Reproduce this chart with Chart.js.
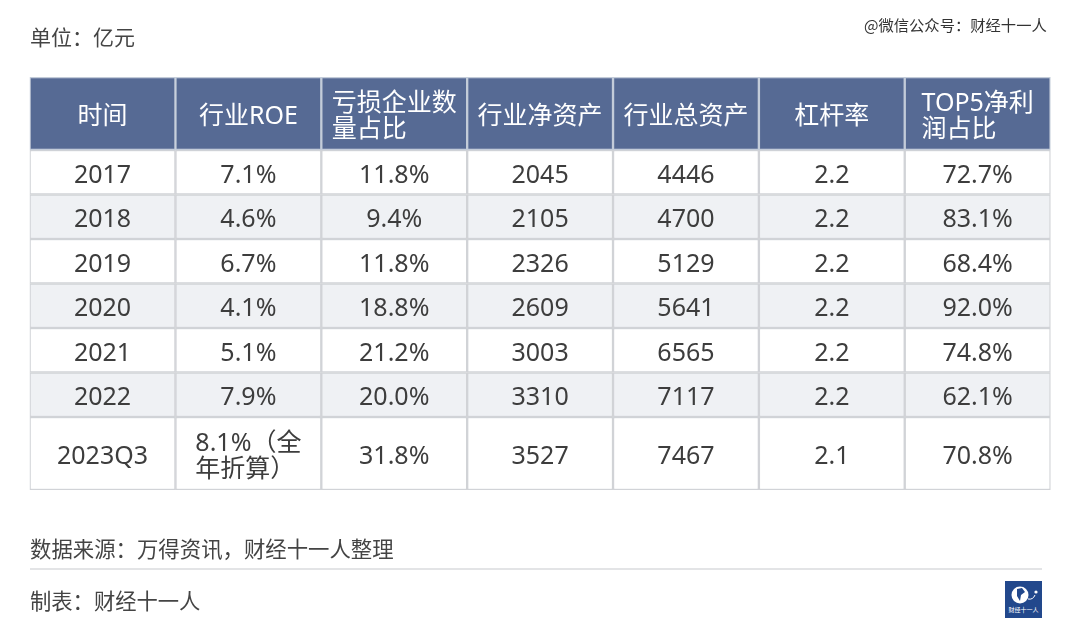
<!DOCTYPE html>
<html lang="zh-CN"><head><meta charset="utf-8">
<script src="https://cdn.jsdelivr.net/npm/chart.js@4"></script>
<style>
html,body{margin:0;padding:0;background:#fff;width:1071px;height:638px;overflow:hidden}
body{position:relative;font-family:"Noto Sans CJK SC","Noto Sans",sans-serif;color:#444}
canvas{position:absolute;left:0;top:0}
.t{position:absolute;white-space:nowrap;line-height:1}
.rule{position:absolute;left:30px;top:568px;width:1012px;height:2px;background:#e3e4e6}
.logo{position:absolute;left:1005px;top:581px;width:37px;height:37px;background:#22488c}
.logo svg{position:absolute;left:0;top:0}
.logo span{position:absolute;left:0;right:0;top:26px;text-align:center;font-size:6px;line-height:1;color:#fff;white-space:nowrap}
</style></head><body>
<canvas id="c" width="1071" height="638"></canvas>
<div class="t" style="left:30px;top:26px;font-size:21px">单位：亿元</div>
<div class="t" style="left:864px;top:17px;font-size:15.3px;color:#333">@微信公众号：财经十一人</div>
<div class="t" style="left:30px;top:537px;font-size:21.4px">数据来源：万得资讯，财经十一人整理</div>
<div class="rule"></div>
<div class="t" style="left:30px;top:589px;font-size:21.3px">制表：财经十一人</div>
<div class="logo"><svg width="37" height="37" viewBox="0 0 37 37"><circle cx="15" cy="14" r="8.5" fill="#fff"/><path d="M12 8l5-1 3 4-4 3-1 6-3-5z" fill="#22488c"/><path d="M23 18q5 1 7-4" stroke="#fff" fill="none" stroke-width="1"/><circle cx="31" cy="11" r="1.6" fill="#fff"/></svg><span>财经十一人</span></div>
<script>
// Table content
const headers   = [["时间"],["行业ROE"],["亏损企业数","量占比"],["行业净资产"],["行业总资产"],["杠杆率"],["TOP5净利","润占比"]];
const periods   = ["2017","2018","2019","2020","2021","2022","2023Q3"];
const roe       = ["7.1%","4.6%","6.7%","4.1%","5.1%","7.9%",["8.1%（全","年折算）"]];
const lossShare = ["11.8%","9.4%","11.8%","18.8%","21.2%","20.0%","31.8%"];
const netAssets = ["2045","2105","2326","2609","3003","3310","3527"];
const totalAssets = ["4446","4700","5129","5641","6565","7117","7467"];
const leverage  = ["2.2","2.2","2.2","2.2","2.2","2.2","2.1"];
const top5Share = ["72.7%","83.1%","68.4%","92.0%","74.8%","62.1%","70.8%"];

const columns = [periods,roe,lossShare,netAssets,totalAssets,leverage,top5Share];
const rowSpans = [73,44.5,44.5,44.5,44.5,44.5,44.5,73];
const edges = rowSpans.reduce((a,h)=>{a.push(a[a.length-1]+h);return a;},[0]);
const rows = [headers].concat(periods.map((_,r)=>columns.map(c=>c[r])));
const HEAD='#566a94', HEADLINE='#c3ccd9', LINE='#d1d3d7', ALT='#eff1f4', INK='#3d3d3d';

const datasets = rows.map((row,r)=>({
  label: r===0?'表头':periods[r-1],
  data: row.map(()=>[edges[r],edges[r+1]]),
  cellText: row,
  backgroundColor: r===0?HEAD:(r%2===0?ALT:'#ffffff'),
  borderColor: r===0?HEADLINE:LINE,
  borderWidth: 1.5,
  borderSkipped:false,
  barPercentage:1, categoryPercentage:1, grouped:false
}));

const cellTextPlugin = {
  id:'cellText',
  afterDatasetsDraw(chart){
    const ctx=chart.ctx;
    ctx.save();
    ctx.font='25px "Noto Sans","Noto Sans CJK SC",sans-serif';
    ctx.textBaseline='middle';
    chart.data.datasets.forEach((ds,r)=>{
      chart.getDatasetMeta(r).data.forEach((bar,c)=>{
        const v=ds.cellText[c];
        const lines=Array.isArray(v)?v:[v];
        const cy=(bar.y+bar.base)/2;
        const w=Math.max(...lines.map(l=>ctx.measureText(l).width));
        const lh=25.5;
        ctx.fillStyle=r===0?'#ffffff':INK;
        lines.forEach((l,i)=>{
          ctx.textAlign='left';
          ctx.fillText(l,bar.x-w/2,cy+(i-(lines.length-1)/2)*lh+3.5);
        });
      });
    });
    ctx.restore();
  }
};

new Chart(document.getElementById('c'),{
  type:'bar',
  data:{labels:headers.map(h=>h.join('')),datasets},
  plugins:[cellTextPlugin],
  options:{
    responsive:false,animation:false,devicePixelRatio:1,
    events:[],
    layout:{padding:{left:29.6,right:20.4,top:77,bottom:148}},
    plugins:{legend:{display:false},tooltip:{enabled:false},title:{display:false}},
    scales:{
      x:{display:false,offset:true,grid:{display:false}},
      y:{display:false,reverse:true,min:0,max:edges[edges.length-1],grid:{display:false}}
    }
  }
});
</script>
</body></html>
